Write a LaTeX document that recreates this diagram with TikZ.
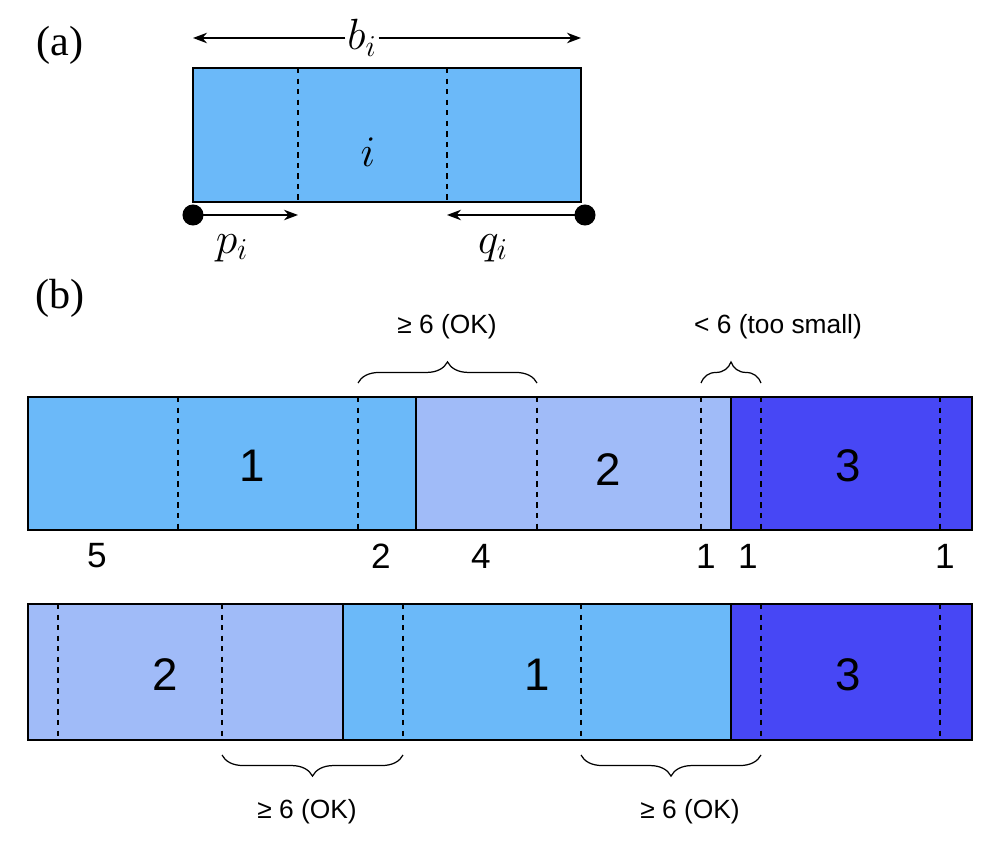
\documentclass[tikz,border=0pt]{standalone}
\usepackage{fontspec}
\setmainfont{Liberation Serif}
\setsansfont{Liberation Sans}
\usetikzlibrary{arrows.meta,decorations.pathreplacing}
\definecolor{cA}{HTML}{6BB9F9}
\definecolor{cB}{HTML}{A0BBF8}
\definecolor{cC}{HTML}{4747F5}
\tikzset{
  blk/.style={draw=black,line width=1.6pt},
  cut/.style={dashed,line width=0.7pt},
  dim/.style={-{Stealth[length=8pt]},line width=0.8pt},
  brc/.style={decorate,decoration={brace,amplitude=12pt},line width=0.7pt},
  lbl/.style={font=\sffamily\fontsize{26}{26}\selectfont},
  num/.style={font=\sffamily\fontsize{20}{20}\selectfont},
  note/.style={font=\sffamily\fontsize{15}{15}\selectfont}
}
\begin{document}
\begin{tikzpicture}[x=0.02cm,y=-0.02cm]
\useasboundingbox (0,0) rectangle (997,844);
% (a)
\node[font=\fontsize{24}{24}\selectfont] (la) at (60,45) {(a)};
\filldraw[fill=cA,draw=black,line width=1pt] (193,68) rectangle (581,202);
\draw[cut] (298,68) -- (298,202) (447,68) -- (447,202);
\node[font=\fontsize{30}{30}\selectfont] (i) at (368,152) {$i$};
\node[font=\fontsize{26}{26}\selectfont,fill=white,inner sep=1pt] (bi) at (362,38) {$b_i$};
\coordinate (bl) at (193,38); \coordinate (br) at (581,38);
\draw[dim] (bi) -- (bl); \draw[dim] (bi) -- (br);
\coordinate (pd) at (193,215); \coordinate (pe) at (298,215);
\coordinate (qd) at (585,215); \coordinate (qe) at (447,215);
\fill (pd) circle (6pt) (qd) circle (6pt);
\draw[dim] (pd) -- (pe); \draw[dim] (qd) -- (qe);
\node[font=\fontsize{26}{26}\selectfont] (pi) at (232,248) {$p_i$};
\node[font=\fontsize{26}{26}\selectfont] (qi) at (493,248) {$q_i$};
% (b) top
\node[font=\fontsize{24}{24}\selectfont] (lb) at (60,298) {(b)};
\fill[cA] (28,397) rectangle (416,530);
\fill[cB] (416,397) rectangle (731,530);
\fill[cC] (731,397) rectangle (972,530);
\foreach \x in {178,358,537,701,761,940} \draw[cut] (\x,397) -- (\x,530);
\draw[blk] (28,397) rectangle (972,530) (416,397) -- (416,530) (731,397) -- (731,530);
\node[lbl] (t1) at (252,466) {1};
\node[lbl] (t2) at (608,470) {2};
\node[lbl] (t3) at (848,466) {3};
\foreach \x/\n in {97/5,381/2,481/4,706/1,748/1,945/1}
  \node[num] at (\x,556) {\n};
\draw[brc] (358,383) -- (537,383);
\node[note] (ok1) at (447,327) {≥ 6 (OK)};
\draw[brc] (701,383) -- (761,383);
\node[note] (small) at (778,327) {< 6 (too small)};
% (b) bottom
\fill[cB] (28,604) rectangle (343,740);
\fill[cA] (343,604) rectangle (731,740);
\fill[cC] (731,604) rectangle (972,740);
\foreach \x in {58,222,403,581,761,940} \draw[cut] (\x,604) -- (\x,740);
\draw[blk] (28,604) rectangle (972,740) (343,604) -- (343,740) (731,604) -- (731,740);
\node[lbl] (u2) at (165,675) {2};
\node[lbl] (u1) at (537,675) {1};
\node[lbl] (u3) at (848,675) {3};
\draw[brc] (403,755) -- (222,755);
\node[note] (ok2) at (307,812) {≥ 6 (OK)};
\draw[brc] (761,755) -- (581,755);
\node[note] (ok3) at (690,812) {≥ 6 (OK)};
\end{tikzpicture}
\end{document}
